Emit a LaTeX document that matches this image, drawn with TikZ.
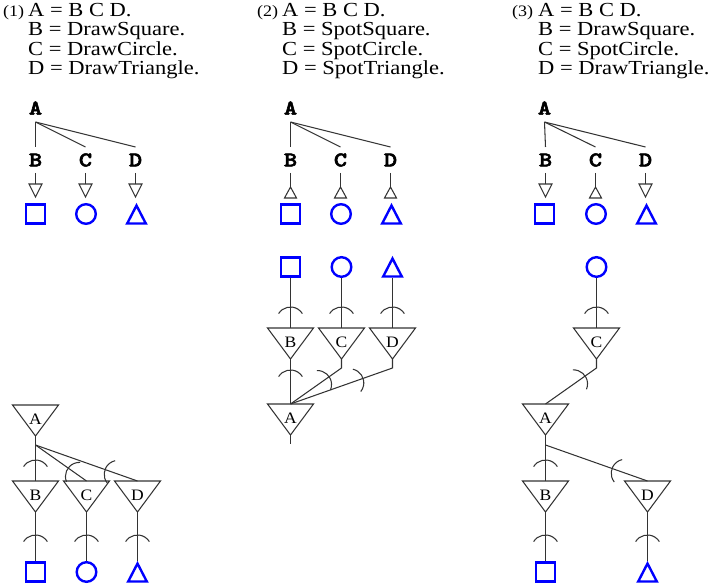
\documentclass[tikz,border=0pt]{standalone}
\usepackage{fontspec}
\setmainfont{Liberation Serif}
\newfontfamily\codefont{lmmonolt10-bold}[Extension=.otf, FakeBold=2.5]
\usepackage{graphicx}
\usetikzlibrary{calc,arrows.meta}

\tikzset{
  ln/.style={draw=black!80, line width=1.05bp},
  shp/.style={draw=blue, line width=2.4bp},
  txt/.style={anchor=base west, inner sep=0, font=\fontsize{20}{20}\selectfont},
  num/.style={anchor=base west, inner sep=0, font=\fontsize{16}{16}\selectfont},
  code/.style={inner sep=0, font=\fontsize{21}{21}\selectfont\codefont},
  tlab/.style={inner sep=0, font=\fontsize{16}{16}\selectfont},
  sqr/.style={shp, rectangle, minimum size=19bp, inner sep=0},
  circ/.style={shp, circle, minimum size=19.6bp, inner sep=0},
}

% bridge arc: apex x, apex y, direction (deg) toward the upper end
\newcommand\Bridge[3]{\draw[ln] ($(#1,#2)+(#3+180:14)+(#3-58:14)$) arc[start angle=#3-58, end angle=#3+58, radius=14];}
% downward triangle: name, x, top y, label
\newcommand\Tri[4]{%
  \draw[ln] (#2-23,#3) -- (#2+23,#3) -- (#2,#3+31) -- cycle;
  \coordinate (#1t) at (#2,#3);
  \coordinate (#1b) at (#2,#3+31);
  \node[tlab] (#1) at (#2,#3+14.5) {\scalebox{1.1}[1]{#4}};}
% blue triangle: name, x, y centre
\newcommand\Btri[3]{%
  \draw[shp] (#2,#3-8.5) -- (#2+9.3,#3+9.5) -- (#2-9.3,#3+9.5) -- cycle;
  \coordinate (#1) at (#2,#3);
  \coordinate (#1n) at (#2,#3-11);
  \coordinate (#1s) at (#2,#3+11);}
% top-tree arrows: x
\newcommand\DrawArr[1]{%
  \draw[ln] (#1,173) -- (#1,184);
  \draw[ln] (#1-6.5,184) -- (#1+6.5,184) -- (#1,197) -- cycle;}
\newcommand\SpotArr[1]{%
  \draw[ln] (#1,173) -- (#1,187);
  \draw[ln] (#1,187) -- (#1+6,198) -- (#1-6,198) -- cycle;}
% text block: prefix x, text x, number, lines
\newcommand\TextBlock[7]{%
  \node[num] (n#3) at (#1,16.7) {\scalebox{1.13}[1]{(#3)}};
  \node[txt] (la#3) at (#2,16.7) {\scalebox{1.13}[1]{#4}};
  \node[txt] (lb#3) at (#2,35.9) {\scalebox{1.13}[1]{#5}};
  \node[txt] (lc#3) at (#2,55.1) {\scalebox{1.13}[1]{#6}};
  \node[txt] (ld#3) at (#2,74.3) {\scalebox{1.13}[1]{#7}};}
% top tree: panel, xA, xB, xC, xD
\newcommand\TopTree[5]{%
  \node[code] (A#1) at (#2,108) {\scalebox{1.2}[1]{A}};
  \node[code] (B#1) at (#3,160) {\scalebox{1.2}[1]{B}};
  \node[code] (C#1) at (#4,160) {\scalebox{1.2}[1]{C}};
  \node[code] (D#1) at (#5,160) {\scalebox{1.2}[1]{D}};
  \coordinate (A#1s) at (#2,122);
  \coordinate (B#1n) at (#3,147);
  \coordinate (C#1n) at (#4,147);
  \coordinate (D#1n) at (#5,147);
  \draw[ln] (A#1s) -- (B#1n);
  \draw[ln] (A#1s) -- (C#1n);
  \draw[ln] (A#1s) -- (D#1n);}

\begin{document}
\begin{tikzpicture}[x=1bp,y=-1bp]
\useasboundingbox (0,0) rectangle (714,586);

% ---------- texts ----------
\TextBlock{3}{28}{1}{A = B C D.}{B = DrawSquare.}{C = DrawCircle.}{D = DrawTriangle.}
\TextBlock{257}{282}{2}{A = B C D.}{B = SpotSquare.}{C = SpotCircle.}{D = SpotTriangle.}
\TextBlock{512}{538}{3}{A = B C D.}{B = DrawSquare.}{C = SpotCircle.}{D = DrawTriangle.}

% ---------- top trees ----------
\TopTree{1}{35.5}{35.5}{85.5}{135.5}
\DrawArr{35.5}\DrawArr{85.5}\DrawArr{135.5}
\node[sqr] (sq1) at (35.5,214) {};
\node[circ] (ci1) at (86,214) {};
\Btri{tr1}{136.5}{214}

\TopTree{2}{290.5}{290.5}{340.5}{390.5}
\SpotArr{290.5}\SpotArr{340.5}\SpotArr{390.5}
\node[sqr] (sq2) at (290.5,214) {};
\node[circ] (ci2) at (341,214) {};
\Btri{tr2}{391.5}{214}

\TopTree{3}{544.5}{545.5}{595.5}{645.5}
\DrawArr{545.5}\SpotArr{595.5}\DrawArr{645.5}
\node[sqr] (sq3) at (544.5,214) {};
\node[circ] (ci3) at (596,214) {};
\Btri{tr3}{646.5}{214}

% ---------- panel 1 lower ----------
\Tri{pa}{35.5}{405}{A}
\coordinate (pj) at (35.5,445);
\draw[ln] (pab) -- (pj);
\Tri{pb}{35.5}{481}{B}
\Tri{pc}{86.5}{481}{C}
\Tri{pd}{137.5}{481}{D}
\draw[ln] (pj) -- (pbt);
\draw[ln] (pj) -- (pct);
\draw[ln] (pj) -- (pdt);
\Bridge{35.5}{460}{-90}
\Bridge{68}{468.3}{-144.8}
\Bridge{105}{469.7}{-160.6}
\node[sqr] (lsq1) at (35.5,572) {};
\node[circ] (lci1) at (86.5,572) {};
\Btri{ltr1}{137.5}{572}
\draw[ln] (pbb) -- (lsq1.north);
\draw[ln] (pcb) -- (lci1.north);
\draw[ln] (pdb) -- (ltr1n);
\Bridge{35.5}{535}{-90}
\Bridge{86.5}{535}{-90}
\Bridge{137.5}{535}{-90}

% ---------- panel 2 lower ----------
\node[sqr] (usq2) at (290.5,267) {};
\node[circ] (uci2) at (341.5,267) {};
\Btri{utr2}{392.5}{267}
\Tri{qb}{290.5}{328}{B}
\Tri{qc}{341.5}{328}{C}
\Tri{qd}{392.5}{328}{D}
\draw[ln] (usq2.south) -- (qbt);
\draw[ln] (uci2.south) -- (qct);
\draw[ln] (utr2s) -- (qdt);
\Bridge{290.5}{307}{-90}
\Bridge{341.5}{307}{-90}
\Bridge{392.5}{307}{-90}
\Tri{qa}{290.5}{404}{A}
\coordinate (qck) at (341.5,368);
\coordinate (qdk) at (392.5,368);
\coordinate (qout) at (290.5,444);
\draw[ln] (qbb) -- (qat);
\draw[ln] (qcb) -- (qck) -- (qat);
\draw[ln] (qdb) -- (qdk) -- (qat);
\draw[ln] (qab) -- (qout);
\Bridge{290.5}{370}{-90}
\Bridge{329}{376.5}{-35.2}
\Bridge{363}{378.2}{-19.4}

% ---------- panel 3 lower ----------
\node[circ] (uci3) at (596.5,267) {};
\Tri{rc}{596.5}{328}{C}
\draw[ln] (uci3.south) -- (rct);
\Bridge{596.5}{307}{-90}
\Tri{ra}{545.5}{404}{A}
\coordinate (rck) at (596.5,368);
\draw[ln] (rcb) -- (rck) -- (rat);
\Bridge{585}{375.8}{-35.2}
\coordinate (rj) at (545.5,445);
\draw[ln] (rab) -- (rj);
\Tri{rb}{545.5}{481}{B}
\Tri{rd}{647.5}{481}{D}
\draw[ln] (rj) -- (rbt);
\draw[ln] (rj) -- (rdt);
\Bridge{545.5}{460}{-90}
\Bridge{612}{468.6}{-160.6}
\node[sqr] (lsq3) at (545.5,572) {};
\Btri{ltr3}{647.5}{572}
\draw[ln] (rbb) -- (lsq3.north);
\draw[ln] (rdb) -- (ltr3n);
\Bridge{545.5}{535}{-90}
\Bridge{647.5}{535}{-90}
\end{tikzpicture}
\end{document}
